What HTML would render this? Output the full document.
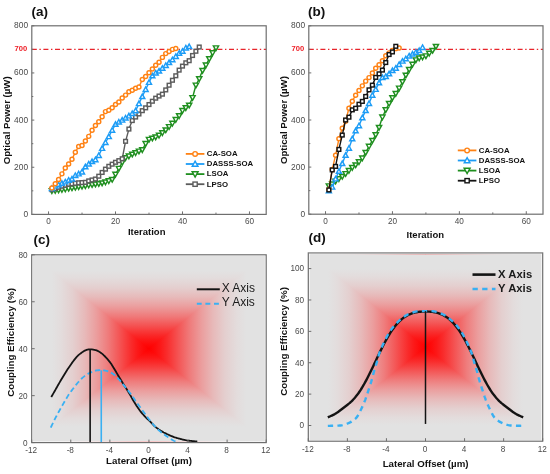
<!DOCTYPE html>
<html><head><meta charset="utf-8"><style>html,body{margin:0;padding:0;background:#fff;width:550px;height:474px;overflow:hidden}svg{display:block;filter:blur(0.3px)}</style></head>
<body><svg width="550" height="474" viewBox="0 0 550 474" style="font-family:'Liberation Sans',sans-serif">
<rect width="550" height="474" fill="#fff"/>
<line x1="31.8" y1="49.38" x2="266.2" y2="49.38" stroke="#e8242b" stroke-width="1.1" stroke-dasharray="5.0 2.6 1.4 2.6"/>
<path d="M51.89 190.83L55.24 190.59L58.59 190.12L61.94 189.65L65.29 189.17L68.63 188.47L71.98 188L75.33 187.52L78.68 186.82L82.03 186.35L85.38 185.87L88.73 185.17L92.07 184.7L95.42 184.22L98.77 183.75L102.12 183.05L105.47 182.1L108.82 180.92L112.17 179.51L115.51 174.32L118.86 168.43L122.21 162.53L125.56 157.82L128.91 156.17L132.26 154.28L135.61 152.87L138.95 151.22L142.3 149.8L145.65 143.68L149 139.43L152.35 138.25L155.7 137.07L159.05 135.42L162.39 132.83L165.74 130L169.09 126.7L172.44 123.4L175.79 119.63L179.14 115.86L182.49 110.67L185.83 107.84L189.18 105.25L192.53 97.7L195.88 85.21L199.23 78.84L202.58 70.59L205.93 65.17L209.27 58.81L212.62 52.91L215.97 47.96" fill="none" stroke="#1f8f1f" stroke-width="1.4" stroke-linejoin="round"/>
<path d="M51.89 193.43L54.49 188.75L49.29 188.75Z" fill="#fff" stroke="#1f8f1f" stroke-width="1.45"/>
<path d="M55.24 193.19L57.84 188.51L52.64 188.51Z" fill="#fff" stroke="#1f8f1f" stroke-width="1.45"/>
<path d="M58.59 192.72L61.19 188.04L55.99 188.04Z" fill="#fff" stroke="#1f8f1f" stroke-width="1.45"/>
<path d="M61.94 192.25L64.54 187.57L59.34 187.57Z" fill="#fff" stroke="#1f8f1f" stroke-width="1.45"/>
<path d="M65.29 191.77L67.89 187.09L62.69 187.09Z" fill="#fff" stroke="#1f8f1f" stroke-width="1.45"/>
<path d="M68.63 191.07L71.23 186.39L66.03 186.39Z" fill="#fff" stroke="#1f8f1f" stroke-width="1.45"/>
<path d="M71.98 190.6L74.58 185.92L69.38 185.92Z" fill="#fff" stroke="#1f8f1f" stroke-width="1.45"/>
<path d="M75.33 190.12L77.93 185.44L72.73 185.44Z" fill="#fff" stroke="#1f8f1f" stroke-width="1.45"/>
<path d="M78.68 189.42L81.28 184.74L76.08 184.74Z" fill="#fff" stroke="#1f8f1f" stroke-width="1.45"/>
<path d="M82.03 188.95L84.63 184.27L79.43 184.27Z" fill="#fff" stroke="#1f8f1f" stroke-width="1.45"/>
<path d="M85.38 188.47L87.98 183.79L82.78 183.79Z" fill="#fff" stroke="#1f8f1f" stroke-width="1.45"/>
<path d="M88.73 187.77L91.33 183.09L86.13 183.09Z" fill="#fff" stroke="#1f8f1f" stroke-width="1.45"/>
<path d="M92.07 187.3L94.67 182.62L89.47 182.62Z" fill="#fff" stroke="#1f8f1f" stroke-width="1.45"/>
<path d="M95.42 186.82L98.02 182.14L92.82 182.14Z" fill="#fff" stroke="#1f8f1f" stroke-width="1.45"/>
<path d="M98.77 186.35L101.37 181.67L96.17 181.67Z" fill="#fff" stroke="#1f8f1f" stroke-width="1.45"/>
<path d="M102.12 185.65L104.72 180.97L99.52 180.97Z" fill="#fff" stroke="#1f8f1f" stroke-width="1.45"/>
<path d="M105.47 184.7L108.07 180.02L102.87 180.02Z" fill="#fff" stroke="#1f8f1f" stroke-width="1.45"/>
<path d="M108.82 183.52L111.42 178.84L106.22 178.84Z" fill="#fff" stroke="#1f8f1f" stroke-width="1.45"/>
<path d="M112.17 182.11L114.77 177.43L109.57 177.43Z" fill="#fff" stroke="#1f8f1f" stroke-width="1.45"/>
<path d="M115.51 176.92L118.11 172.24L112.91 172.24Z" fill="#fff" stroke="#1f8f1f" stroke-width="1.45"/>
<path d="M118.86 171.03L121.46 166.35L116.26 166.35Z" fill="#fff" stroke="#1f8f1f" stroke-width="1.45"/>
<path d="M122.21 165.13L124.81 160.45L119.61 160.45Z" fill="#fff" stroke="#1f8f1f" stroke-width="1.45"/>
<path d="M125.56 160.42L128.16 155.74L122.96 155.74Z" fill="#fff" stroke="#1f8f1f" stroke-width="1.45"/>
<path d="M128.91 158.77L131.51 154.09L126.31 154.09Z" fill="#fff" stroke="#1f8f1f" stroke-width="1.45"/>
<path d="M132.26 156.88L134.86 152.2L129.66 152.2Z" fill="#fff" stroke="#1f8f1f" stroke-width="1.45"/>
<path d="M135.61 155.47L138.21 150.79L133.01 150.79Z" fill="#fff" stroke="#1f8f1f" stroke-width="1.45"/>
<path d="M138.95 153.82L141.55 149.14L136.35 149.14Z" fill="#fff" stroke="#1f8f1f" stroke-width="1.45"/>
<path d="M142.3 152.4L144.9 147.72L139.7 147.72Z" fill="#fff" stroke="#1f8f1f" stroke-width="1.45"/>
<path d="M145.65 146.28L148.25 141.59L143.05 141.59Z" fill="#fff" stroke="#1f8f1f" stroke-width="1.45"/>
<path d="M149 142.03L151.6 137.35L146.4 137.35Z" fill="#fff" stroke="#1f8f1f" stroke-width="1.45"/>
<path d="M152.35 140.85L154.95 136.17L149.75 136.17Z" fill="#fff" stroke="#1f8f1f" stroke-width="1.45"/>
<path d="M155.7 139.67L158.3 134.99L153.1 134.99Z" fill="#fff" stroke="#1f8f1f" stroke-width="1.45"/>
<path d="M159.05 138.02L161.65 133.34L156.45 133.34Z" fill="#fff" stroke="#1f8f1f" stroke-width="1.45"/>
<path d="M162.39 135.43L164.99 130.75L159.79 130.75Z" fill="#fff" stroke="#1f8f1f" stroke-width="1.45"/>
<path d="M165.74 132.6L168.34 127.92L163.14 127.92Z" fill="#fff" stroke="#1f8f1f" stroke-width="1.45"/>
<path d="M169.09 129.3L171.69 124.62L166.49 124.62Z" fill="#fff" stroke="#1f8f1f" stroke-width="1.45"/>
<path d="M172.44 126L175.04 121.32L169.84 121.32Z" fill="#fff" stroke="#1f8f1f" stroke-width="1.45"/>
<path d="M175.79 122.23L178.39 117.55L173.19 117.55Z" fill="#fff" stroke="#1f8f1f" stroke-width="1.45"/>
<path d="M179.14 118.46L181.74 113.78L176.54 113.78Z" fill="#fff" stroke="#1f8f1f" stroke-width="1.45"/>
<path d="M182.49 113.27L185.09 108.59L179.89 108.59Z" fill="#fff" stroke="#1f8f1f" stroke-width="1.45"/>
<path d="M185.83 110.44L188.43 105.76L183.23 105.76Z" fill="#fff" stroke="#1f8f1f" stroke-width="1.45"/>
<path d="M189.18 107.85L191.78 103.17L186.58 103.17Z" fill="#fff" stroke="#1f8f1f" stroke-width="1.45"/>
<path d="M192.53 100.3L195.13 95.62L189.93 95.62Z" fill="#fff" stroke="#1f8f1f" stroke-width="1.45"/>
<path d="M195.88 87.81L198.48 83.13L193.28 83.13Z" fill="#fff" stroke="#1f8f1f" stroke-width="1.45"/>
<path d="M199.23 81.44L201.83 76.76L196.63 76.76Z" fill="#fff" stroke="#1f8f1f" stroke-width="1.45"/>
<path d="M202.58 73.19L205.18 68.51L199.98 68.51Z" fill="#fff" stroke="#1f8f1f" stroke-width="1.45"/>
<path d="M205.93 67.77L208.53 63.09L203.33 63.09Z" fill="#fff" stroke="#1f8f1f" stroke-width="1.45"/>
<path d="M209.27 61.41L211.87 56.73L206.67 56.73Z" fill="#fff" stroke="#1f8f1f" stroke-width="1.45"/>
<path d="M212.62 55.51L215.22 50.83L210.02 50.83Z" fill="#fff" stroke="#1f8f1f" stroke-width="1.45"/>
<path d="M215.97 50.56L218.57 45.88L213.37 45.88Z" fill="#fff" stroke="#1f8f1f" stroke-width="1.45"/>
<path d="M51.89 189.65L55.24 188.47L58.59 187.29L61.94 186.11L65.29 185.17L68.63 184.22L71.98 183.75L75.33 183.28L78.68 182.81L82.03 182.57L85.38 182.34L88.73 180.92L92.07 179.98L95.42 179.04L98.77 176.21L102.12 172.44L105.47 169.14L108.82 166.31L112.17 164.19L115.51 162.3L118.86 160.65L122.21 158.76L125.56 141.32L128.91 129.06L132.26 120.57L135.61 117.04L138.95 113.97L142.3 110.67L145.65 107.84L149 104.54L152.35 101.24L155.7 98.18L159.05 96.05L162.39 94.17L165.74 89.92L169.09 85.21L172.44 80.26L175.79 75.78L179.14 70.12L182.49 66.11L185.83 62.81L189.18 60.69L192.53 55.5L195.88 51.26L199.23 47.02" fill="none" stroke="#5c5c5c" stroke-width="1.4" stroke-linejoin="round"/>
<rect x="50.04" y="187.8" width="3.7" height="3.7" fill="#fff" stroke="#5c5c5c" stroke-width="1.45"/>
<rect x="53.39" y="186.62" width="3.7" height="3.7" fill="#fff" stroke="#5c5c5c" stroke-width="1.45"/>
<rect x="56.74" y="185.44" width="3.7" height="3.7" fill="#fff" stroke="#5c5c5c" stroke-width="1.45"/>
<rect x="60.09" y="184.26" width="3.7" height="3.7" fill="#fff" stroke="#5c5c5c" stroke-width="1.45"/>
<rect x="63.44" y="183.32" width="3.7" height="3.7" fill="#fff" stroke="#5c5c5c" stroke-width="1.45"/>
<rect x="66.78" y="182.37" width="3.7" height="3.7" fill="#fff" stroke="#5c5c5c" stroke-width="1.45"/>
<rect x="70.13" y="181.9" width="3.7" height="3.7" fill="#fff" stroke="#5c5c5c" stroke-width="1.45"/>
<rect x="73.48" y="181.43" width="3.7" height="3.7" fill="#fff" stroke="#5c5c5c" stroke-width="1.45"/>
<rect x="76.83" y="180.96" width="3.7" height="3.7" fill="#fff" stroke="#5c5c5c" stroke-width="1.45"/>
<rect x="80.18" y="180.72" width="3.7" height="3.7" fill="#fff" stroke="#5c5c5c" stroke-width="1.45"/>
<rect x="83.53" y="180.49" width="3.7" height="3.7" fill="#fff" stroke="#5c5c5c" stroke-width="1.45"/>
<rect x="86.88" y="179.07" width="3.7" height="3.7" fill="#fff" stroke="#5c5c5c" stroke-width="1.45"/>
<rect x="90.22" y="178.13" width="3.7" height="3.7" fill="#fff" stroke="#5c5c5c" stroke-width="1.45"/>
<rect x="93.57" y="177.19" width="3.7" height="3.7" fill="#fff" stroke="#5c5c5c" stroke-width="1.45"/>
<rect x="96.92" y="174.36" width="3.7" height="3.7" fill="#fff" stroke="#5c5c5c" stroke-width="1.45"/>
<rect x="100.27" y="170.59" width="3.7" height="3.7" fill="#fff" stroke="#5c5c5c" stroke-width="1.45"/>
<rect x="103.62" y="167.29" width="3.7" height="3.7" fill="#fff" stroke="#5c5c5c" stroke-width="1.45"/>
<rect x="106.97" y="164.46" width="3.7" height="3.7" fill="#fff" stroke="#5c5c5c" stroke-width="1.45"/>
<rect x="110.32" y="162.34" width="3.7" height="3.7" fill="#fff" stroke="#5c5c5c" stroke-width="1.45"/>
<rect x="113.66" y="160.45" width="3.7" height="3.7" fill="#fff" stroke="#5c5c5c" stroke-width="1.45"/>
<rect x="117.01" y="158.8" width="3.7" height="3.7" fill="#fff" stroke="#5c5c5c" stroke-width="1.45"/>
<rect x="120.36" y="156.91" width="3.7" height="3.7" fill="#fff" stroke="#5c5c5c" stroke-width="1.45"/>
<rect x="123.71" y="139.47" width="3.7" height="3.7" fill="#fff" stroke="#5c5c5c" stroke-width="1.45"/>
<rect x="127.06" y="127.21" width="3.7" height="3.7" fill="#fff" stroke="#5c5c5c" stroke-width="1.45"/>
<rect x="130.41" y="118.72" width="3.7" height="3.7" fill="#fff" stroke="#5c5c5c" stroke-width="1.45"/>
<rect x="133.76" y="115.19" width="3.7" height="3.7" fill="#fff" stroke="#5c5c5c" stroke-width="1.45"/>
<rect x="137.1" y="112.12" width="3.7" height="3.7" fill="#fff" stroke="#5c5c5c" stroke-width="1.45"/>
<rect x="140.45" y="108.82" width="3.7" height="3.7" fill="#fff" stroke="#5c5c5c" stroke-width="1.45"/>
<rect x="143.8" y="105.99" width="3.7" height="3.7" fill="#fff" stroke="#5c5c5c" stroke-width="1.45"/>
<rect x="147.15" y="102.69" width="3.7" height="3.7" fill="#fff" stroke="#5c5c5c" stroke-width="1.45"/>
<rect x="150.5" y="99.39" width="3.7" height="3.7" fill="#fff" stroke="#5c5c5c" stroke-width="1.45"/>
<rect x="153.85" y="96.33" width="3.7" height="3.7" fill="#fff" stroke="#5c5c5c" stroke-width="1.45"/>
<rect x="157.2" y="94.2" width="3.7" height="3.7" fill="#fff" stroke="#5c5c5c" stroke-width="1.45"/>
<rect x="160.54" y="92.32" width="3.7" height="3.7" fill="#fff" stroke="#5c5c5c" stroke-width="1.45"/>
<rect x="163.89" y="88.07" width="3.7" height="3.7" fill="#fff" stroke="#5c5c5c" stroke-width="1.45"/>
<rect x="167.24" y="83.36" width="3.7" height="3.7" fill="#fff" stroke="#5c5c5c" stroke-width="1.45"/>
<rect x="170.59" y="78.41" width="3.7" height="3.7" fill="#fff" stroke="#5c5c5c" stroke-width="1.45"/>
<rect x="173.94" y="73.93" width="3.7" height="3.7" fill="#fff" stroke="#5c5c5c" stroke-width="1.45"/>
<rect x="177.29" y="68.27" width="3.7" height="3.7" fill="#fff" stroke="#5c5c5c" stroke-width="1.45"/>
<rect x="180.64" y="64.26" width="3.7" height="3.7" fill="#fff" stroke="#5c5c5c" stroke-width="1.45"/>
<rect x="183.98" y="60.96" width="3.7" height="3.7" fill="#fff" stroke="#5c5c5c" stroke-width="1.45"/>
<rect x="187.33" y="58.84" width="3.7" height="3.7" fill="#fff" stroke="#5c5c5c" stroke-width="1.45"/>
<rect x="190.68" y="53.65" width="3.7" height="3.7" fill="#fff" stroke="#5c5c5c" stroke-width="1.45"/>
<rect x="194.03" y="49.41" width="3.7" height="3.7" fill="#fff" stroke="#5c5c5c" stroke-width="1.45"/>
<rect x="197.38" y="45.17" width="3.7" height="3.7" fill="#fff" stroke="#5c5c5c" stroke-width="1.45"/>
<path d="M51.89 188.47L55.24 186.11L58.59 184.7L61.94 183.28L65.29 181.87L68.63 180.22L71.98 179.04L75.33 175.5L78.68 173.85L82.03 171.97L85.38 166.78L88.73 163.95L92.07 161.59L95.42 159.71L98.77 155.46L102.12 148.39L105.47 142.5L108.82 136.6L112.17 130.24L115.51 124.34L118.86 121.99L122.21 120.1L125.56 117.98L128.91 115.86L132.26 113.5L135.61 110.67L138.95 103.6L142.3 96.53L145.65 89.45L149 82.38L152.35 75.78L155.7 72.95L159.05 71.06L162.39 68.24L165.74 65.41L169.09 62.58L172.44 59.75L175.79 56.45L179.14 53.15L182.49 51.26L185.83 47.96L189.18 46.55" fill="none" stroke="#1c9cf6" stroke-width="1.4" stroke-linejoin="round"/>
<path d="M51.89 185.97L54.39 190.47L49.39 190.47Z" fill="#fff" stroke="#1c9cf6" stroke-width="1.45"/>
<path d="M55.24 183.61L57.74 188.11L52.74 188.11Z" fill="#fff" stroke="#1c9cf6" stroke-width="1.45"/>
<path d="M58.59 182.2L61.09 186.7L56.09 186.7Z" fill="#fff" stroke="#1c9cf6" stroke-width="1.45"/>
<path d="M61.94 180.78L64.44 185.28L59.44 185.28Z" fill="#fff" stroke="#1c9cf6" stroke-width="1.45"/>
<path d="M65.29 179.37L67.79 183.87L62.79 183.87Z" fill="#fff" stroke="#1c9cf6" stroke-width="1.45"/>
<path d="M68.63 177.72L71.13 182.22L66.13 182.22Z" fill="#fff" stroke="#1c9cf6" stroke-width="1.45"/>
<path d="M71.98 176.54L74.48 181.04L69.48 181.04Z" fill="#fff" stroke="#1c9cf6" stroke-width="1.45"/>
<path d="M75.33 173L77.83 177.5L72.83 177.5Z" fill="#fff" stroke="#1c9cf6" stroke-width="1.45"/>
<path d="M78.68 171.35L81.18 175.85L76.18 175.85Z" fill="#fff" stroke="#1c9cf6" stroke-width="1.45"/>
<path d="M82.03 169.47L84.53 173.97L79.53 173.97Z" fill="#fff" stroke="#1c9cf6" stroke-width="1.45"/>
<path d="M85.38 164.28L87.88 168.78L82.88 168.78Z" fill="#fff" stroke="#1c9cf6" stroke-width="1.45"/>
<path d="M88.73 161.45L91.23 165.95L86.23 165.95Z" fill="#fff" stroke="#1c9cf6" stroke-width="1.45"/>
<path d="M92.07 159.09L94.57 163.59L89.57 163.59Z" fill="#fff" stroke="#1c9cf6" stroke-width="1.45"/>
<path d="M95.42 157.21L97.92 161.71L92.92 161.71Z" fill="#fff" stroke="#1c9cf6" stroke-width="1.45"/>
<path d="M98.77 152.96L101.27 157.46L96.27 157.46Z" fill="#fff" stroke="#1c9cf6" stroke-width="1.45"/>
<path d="M102.12 145.89L104.62 150.39L99.62 150.39Z" fill="#fff" stroke="#1c9cf6" stroke-width="1.45"/>
<path d="M105.47 140L107.97 144.5L102.97 144.5Z" fill="#fff" stroke="#1c9cf6" stroke-width="1.45"/>
<path d="M108.82 134.1L111.32 138.6L106.32 138.6Z" fill="#fff" stroke="#1c9cf6" stroke-width="1.45"/>
<path d="M112.17 127.74L114.67 132.24L109.67 132.24Z" fill="#fff" stroke="#1c9cf6" stroke-width="1.45"/>
<path d="M115.51 121.84L118.01 126.34L113.01 126.34Z" fill="#fff" stroke="#1c9cf6" stroke-width="1.45"/>
<path d="M118.86 119.49L121.36 123.99L116.36 123.99Z" fill="#fff" stroke="#1c9cf6" stroke-width="1.45"/>
<path d="M122.21 117.6L124.71 122.1L119.71 122.1Z" fill="#fff" stroke="#1c9cf6" stroke-width="1.45"/>
<path d="M125.56 115.48L128.06 119.98L123.06 119.98Z" fill="#fff" stroke="#1c9cf6" stroke-width="1.45"/>
<path d="M128.91 113.36L131.41 117.86L126.41 117.86Z" fill="#fff" stroke="#1c9cf6" stroke-width="1.45"/>
<path d="M132.26 111L134.76 115.5L129.76 115.5Z" fill="#fff" stroke="#1c9cf6" stroke-width="1.45"/>
<path d="M135.61 108.17L138.11 112.67L133.11 112.67Z" fill="#fff" stroke="#1c9cf6" stroke-width="1.45"/>
<path d="M138.95 101.1L141.45 105.6L136.45 105.6Z" fill="#fff" stroke="#1c9cf6" stroke-width="1.45"/>
<path d="M142.3 94.03L144.8 98.53L139.8 98.53Z" fill="#fff" stroke="#1c9cf6" stroke-width="1.45"/>
<path d="M145.65 86.95L148.15 91.45L143.15 91.45Z" fill="#fff" stroke="#1c9cf6" stroke-width="1.45"/>
<path d="M149 79.88L151.5 84.38L146.5 84.38Z" fill="#fff" stroke="#1c9cf6" stroke-width="1.45"/>
<path d="M152.35 73.28L154.85 77.78L149.85 77.78Z" fill="#fff" stroke="#1c9cf6" stroke-width="1.45"/>
<path d="M155.7 70.45L158.2 74.95L153.2 74.95Z" fill="#fff" stroke="#1c9cf6" stroke-width="1.45"/>
<path d="M159.05 68.56L161.55 73.06L156.55 73.06Z" fill="#fff" stroke="#1c9cf6" stroke-width="1.45"/>
<path d="M162.39 65.74L164.89 70.24L159.89 70.24Z" fill="#fff" stroke="#1c9cf6" stroke-width="1.45"/>
<path d="M165.74 62.91L168.24 67.41L163.24 67.41Z" fill="#fff" stroke="#1c9cf6" stroke-width="1.45"/>
<path d="M169.09 60.08L171.59 64.58L166.59 64.58Z" fill="#fff" stroke="#1c9cf6" stroke-width="1.45"/>
<path d="M172.44 57.25L174.94 61.75L169.94 61.75Z" fill="#fff" stroke="#1c9cf6" stroke-width="1.45"/>
<path d="M175.79 53.95L178.29 58.45L173.29 58.45Z" fill="#fff" stroke="#1c9cf6" stroke-width="1.45"/>
<path d="M179.14 50.65L181.64 55.15L176.64 55.15Z" fill="#fff" stroke="#1c9cf6" stroke-width="1.45"/>
<path d="M182.49 48.76L184.99 53.26L179.99 53.26Z" fill="#fff" stroke="#1c9cf6" stroke-width="1.45"/>
<path d="M185.83 45.46L188.33 49.96L183.33 49.96Z" fill="#fff" stroke="#1c9cf6" stroke-width="1.45"/>
<path d="M189.18 44.05L191.68 48.55L186.68 48.55Z" fill="#fff" stroke="#1c9cf6" stroke-width="1.45"/>
<path d="M51.89 188L55.24 183.75L58.59 179.51L61.94 173.85L65.29 167.96L68.63 163.95L71.98 159.23L75.33 152.16L78.68 146.5L82.03 145.56L85.38 141.08L88.73 136.37L92.07 130.24L95.42 125.52L98.77 121.75L102.12 116.8L105.47 111.61L108.82 110.2L112.17 107.84L115.51 104.54L118.86 101.95L122.21 97.94L125.56 95.11L128.91 91.81L132.26 90.16L135.61 88.27L138.95 87.09L142.3 79.55L145.65 76.49L149 72.71L152.35 68.94L155.7 65.17L159.05 62.34L162.39 57.39L165.74 53.62L169.09 51.5L172.44 49.38L175.79 48.43" fill="none" stroke="#ff8214" stroke-width="1.4" stroke-linejoin="round"/>
<circle cx="51.89" cy="188" r="2" fill="#fff" stroke="#ff8214" stroke-width="1.45"/>
<circle cx="55.24" cy="183.75" r="2" fill="#fff" stroke="#ff8214" stroke-width="1.45"/>
<circle cx="58.59" cy="179.51" r="2" fill="#fff" stroke="#ff8214" stroke-width="1.45"/>
<circle cx="61.94" cy="173.85" r="2" fill="#fff" stroke="#ff8214" stroke-width="1.45"/>
<circle cx="65.29" cy="167.96" r="2" fill="#fff" stroke="#ff8214" stroke-width="1.45"/>
<circle cx="68.63" cy="163.95" r="2" fill="#fff" stroke="#ff8214" stroke-width="1.45"/>
<circle cx="71.98" cy="159.23" r="2" fill="#fff" stroke="#ff8214" stroke-width="1.45"/>
<circle cx="75.33" cy="152.16" r="2" fill="#fff" stroke="#ff8214" stroke-width="1.45"/>
<circle cx="78.68" cy="146.5" r="2" fill="#fff" stroke="#ff8214" stroke-width="1.45"/>
<circle cx="82.03" cy="145.56" r="2" fill="#fff" stroke="#ff8214" stroke-width="1.45"/>
<circle cx="85.38" cy="141.08" r="2" fill="#fff" stroke="#ff8214" stroke-width="1.45"/>
<circle cx="88.73" cy="136.37" r="2" fill="#fff" stroke="#ff8214" stroke-width="1.45"/>
<circle cx="92.07" cy="130.24" r="2" fill="#fff" stroke="#ff8214" stroke-width="1.45"/>
<circle cx="95.42" cy="125.52" r="2" fill="#fff" stroke="#ff8214" stroke-width="1.45"/>
<circle cx="98.77" cy="121.75" r="2" fill="#fff" stroke="#ff8214" stroke-width="1.45"/>
<circle cx="102.12" cy="116.8" r="2" fill="#fff" stroke="#ff8214" stroke-width="1.45"/>
<circle cx="105.47" cy="111.61" r="2" fill="#fff" stroke="#ff8214" stroke-width="1.45"/>
<circle cx="108.82" cy="110.2" r="2" fill="#fff" stroke="#ff8214" stroke-width="1.45"/>
<circle cx="112.17" cy="107.84" r="2" fill="#fff" stroke="#ff8214" stroke-width="1.45"/>
<circle cx="115.51" cy="104.54" r="2" fill="#fff" stroke="#ff8214" stroke-width="1.45"/>
<circle cx="118.86" cy="101.95" r="2" fill="#fff" stroke="#ff8214" stroke-width="1.45"/>
<circle cx="122.21" cy="97.94" r="2" fill="#fff" stroke="#ff8214" stroke-width="1.45"/>
<circle cx="125.56" cy="95.11" r="2" fill="#fff" stroke="#ff8214" stroke-width="1.45"/>
<circle cx="128.91" cy="91.81" r="2" fill="#fff" stroke="#ff8214" stroke-width="1.45"/>
<circle cx="132.26" cy="90.16" r="2" fill="#fff" stroke="#ff8214" stroke-width="1.45"/>
<circle cx="135.61" cy="88.27" r="2" fill="#fff" stroke="#ff8214" stroke-width="1.45"/>
<circle cx="138.95" cy="87.09" r="2" fill="#fff" stroke="#ff8214" stroke-width="1.45"/>
<circle cx="142.3" cy="79.55" r="2" fill="#fff" stroke="#ff8214" stroke-width="1.45"/>
<circle cx="145.65" cy="76.49" r="2" fill="#fff" stroke="#ff8214" stroke-width="1.45"/>
<circle cx="149" cy="72.71" r="2" fill="#fff" stroke="#ff8214" stroke-width="1.45"/>
<circle cx="152.35" cy="68.94" r="2" fill="#fff" stroke="#ff8214" stroke-width="1.45"/>
<circle cx="155.7" cy="65.17" r="2" fill="#fff" stroke="#ff8214" stroke-width="1.45"/>
<circle cx="159.05" cy="62.34" r="2" fill="#fff" stroke="#ff8214" stroke-width="1.45"/>
<circle cx="162.39" cy="57.39" r="2" fill="#fff" stroke="#ff8214" stroke-width="1.45"/>
<circle cx="165.74" cy="53.62" r="2" fill="#fff" stroke="#ff8214" stroke-width="1.45"/>
<circle cx="169.09" cy="51.5" r="2" fill="#fff" stroke="#ff8214" stroke-width="1.45"/>
<circle cx="172.44" cy="49.38" r="2" fill="#fff" stroke="#ff8214" stroke-width="1.45"/>
<circle cx="175.79" cy="48.43" r="2" fill="#fff" stroke="#ff8214" stroke-width="1.45"/>
<rect x="31.8" y="25.8" width="234.4" height="188.6" fill="none" stroke="#6e6e6e" stroke-width="1.2"/>
<line x1="48.54" y1="214.4" x2="48.54" y2="211.4" stroke="#6e6e6e" stroke-width="1.0"/>
<line x1="115.51" y1="214.4" x2="115.51" y2="211.4" stroke="#6e6e6e" stroke-width="1.0"/>
<line x1="182.49" y1="214.4" x2="182.49" y2="211.4" stroke="#6e6e6e" stroke-width="1.0"/>
<line x1="249.46" y1="214.4" x2="249.46" y2="211.4" stroke="#6e6e6e" stroke-width="1.0"/>
<line x1="82.03" y1="214.4" x2="82.03" y2="212.6" stroke="#6e6e6e" stroke-width="1.0"/>
<line x1="149" y1="214.4" x2="149" y2="212.6" stroke="#6e6e6e" stroke-width="1.0"/>
<line x1="215.97" y1="214.4" x2="215.97" y2="212.6" stroke="#6e6e6e" stroke-width="1.0"/>
<line x1="31.8" y1="214.4" x2="34.3" y2="214.4" stroke="#6e6e6e" stroke-width="1.0"/>
<line x1="31.8" y1="167.25" x2="34.3" y2="167.25" stroke="#6e6e6e" stroke-width="1.0"/>
<line x1="31.8" y1="120.1" x2="34.3" y2="120.1" stroke="#6e6e6e" stroke-width="1.0"/>
<line x1="31.8" y1="72.95" x2="34.3" y2="72.95" stroke="#6e6e6e" stroke-width="1.0"/>
<line x1="31.8" y1="25.8" x2="34.3" y2="25.8" stroke="#6e6e6e" stroke-width="1.0"/>
<line x1="31.8" y1="190.83" x2="33.3" y2="190.83" stroke="#6e6e6e" stroke-width="1.0"/>
<line x1="31.8" y1="143.68" x2="33.3" y2="143.68" stroke="#6e6e6e" stroke-width="1.0"/>
<line x1="31.8" y1="96.53" x2="33.3" y2="96.53" stroke="#6e6e6e" stroke-width="1.0"/>
<line x1="31.8" y1="49.38" x2="33.3" y2="49.38" stroke="#6e6e6e" stroke-width="1.0"/>
<text x="48.54" y="224.1" font-size="8.2" text-anchor="middle" font-weight="normal" fill="#4a4a4a" >0</text>
<text x="115.51" y="224.1" font-size="8.2" text-anchor="middle" font-weight="normal" fill="#4a4a4a" >20</text>
<text x="182.49" y="224.1" font-size="8.2" text-anchor="middle" font-weight="normal" fill="#4a4a4a" >40</text>
<text x="249.46" y="224.1" font-size="8.2" text-anchor="middle" font-weight="normal" fill="#4a4a4a" >60</text>
<text x="28.1" y="216.9" font-size="8.4" text-anchor="end" font-weight="normal" fill="#4a4a4a" >0</text>
<text x="28.1" y="169.75" font-size="8.4" text-anchor="end" font-weight="normal" fill="#4a4a4a" >200</text>
<text x="28.1" y="122.6" font-size="8.4" text-anchor="end" font-weight="normal" fill="#4a4a4a" >400</text>
<text x="28.1" y="75.45" font-size="8.4" text-anchor="end" font-weight="normal" fill="#4a4a4a" >600</text>
<text x="28.1" y="28.3" font-size="8.4" text-anchor="end" font-weight="normal" fill="#4a4a4a" >800</text>
<text x="27.2" y="51.38" font-size="7.6" text-anchor="end" font-weight="bold" fill="#ee1c24" >700</text>
<text x="31.5" y="15.7" font-size="13.5" text-anchor="start" font-weight="bold" fill="#111" >(a)</text>
<text x="146.7" y="235" font-size="9.5" text-anchor="middle" font-weight="bold" fill="#111" >Iteration</text>
<text x="10.1" y="120.35" font-size="9.65" text-anchor="middle" font-weight="bold" fill="#111" transform="rotate(-90 10.1 120.35)">Optical Power (&#181;W)</text>
<line x1="185.8" y1="153.9" x2="204.4" y2="153.9" stroke="#ff8214" stroke-width="1.8"/>
<circle cx="195.1" cy="153.9" r="2.3" fill="#fff" stroke="#ff8214" stroke-width="1.4"/>
<text x="206.8" y="156.2" font-size="7.8" text-anchor="start" font-weight="bold" fill="#111" >CA-SOA</text>
<line x1="185.8" y1="164" x2="204.4" y2="164" stroke="#1c9cf6" stroke-width="1.8"/>
<path d="M195.1 161.12L197.98 166.3L192.23 166.3Z" fill="#fff" stroke="#1c9cf6" stroke-width="1.4"/>
<text x="206.8" y="166.3" font-size="7.8" text-anchor="start" font-weight="bold" fill="#111" >DASSS-SOA</text>
<line x1="185.8" y1="174.1" x2="204.4" y2="174.1" stroke="#1f8f1f" stroke-width="1.8"/>
<path d="M195.1 177.09L198.09 171.71L192.11 171.71Z" fill="#fff" stroke="#1f8f1f" stroke-width="1.4"/>
<text x="206.8" y="176.4" font-size="7.8" text-anchor="start" font-weight="bold" fill="#111" >LSOA</text>
<line x1="185.8" y1="184.2" x2="204.4" y2="184.2" stroke="#5c5c5c" stroke-width="1.8"/>
<rect x="192.97" y="182.07" width="4.25" height="4.25" fill="#fff" stroke="#5c5c5c" stroke-width="1.4"/>
<text x="206.8" y="186.5" font-size="7.8" text-anchor="start" font-weight="bold" fill="#111" >LPSO</text>
<line x1="308.8" y1="49.35" x2="543" y2="49.35" stroke="#e8242b" stroke-width="1.1" stroke-dasharray="5.0 2.6 1.4 2.6"/>
<path d="M328.87 185.94L332.22 184.06L335.57 181.23L338.91 178.88L342.26 176.52L345.6 173.69L348.95 170.63L352.29 167.57L355.64 164.98L358.99 161.92L362.33 158.15L365.68 152.5L369.02 146.38L372.37 140.49L375.71 134.84L379.06 127.54L382.41 117.17L385.75 109.87L389.1 103.52L392.44 97.86L395.79 93.62L399.13 88.21L402.48 81.85L405.83 75.25L409.17 69.6L412.52 64.42L415.86 59.95L419.21 58.06L422.55 57.12L425.9 55.94L429.25 53.35L432.59 50.53L435.94 46.52" fill="none" stroke="#1f8f1f" stroke-width="1.4" stroke-linejoin="round"/>
<path d="M328.87 188.54L331.47 183.86L326.27 183.86Z" fill="#fff" stroke="#1f8f1f" stroke-width="1.45"/>
<path d="M332.22 186.66L334.82 181.98L329.62 181.98Z" fill="#fff" stroke="#1f8f1f" stroke-width="1.45"/>
<path d="M335.57 183.83L338.17 179.15L332.97 179.15Z" fill="#fff" stroke="#1f8f1f" stroke-width="1.45"/>
<path d="M338.91 181.47L341.51 176.79L336.31 176.79Z" fill="#fff" stroke="#1f8f1f" stroke-width="1.45"/>
<path d="M342.26 179.12L344.86 174.44L339.66 174.44Z" fill="#fff" stroke="#1f8f1f" stroke-width="1.45"/>
<path d="M345.6 176.29L348.2 171.61L343 171.61Z" fill="#fff" stroke="#1f8f1f" stroke-width="1.45"/>
<path d="M348.95 173.23L351.55 168.55L346.35 168.55Z" fill="#fff" stroke="#1f8f1f" stroke-width="1.45"/>
<path d="M352.29 170.17L354.89 165.49L349.69 165.49Z" fill="#fff" stroke="#1f8f1f" stroke-width="1.45"/>
<path d="M355.64 167.58L358.24 162.9L353.04 162.9Z" fill="#fff" stroke="#1f8f1f" stroke-width="1.45"/>
<path d="M358.99 164.52L361.59 159.84L356.39 159.84Z" fill="#fff" stroke="#1f8f1f" stroke-width="1.45"/>
<path d="M362.33 160.75L364.93 156.07L359.73 156.07Z" fill="#fff" stroke="#1f8f1f" stroke-width="1.45"/>
<path d="M365.68 155.1L368.28 150.42L363.08 150.42Z" fill="#fff" stroke="#1f8f1f" stroke-width="1.45"/>
<path d="M369.02 148.98L371.62 144.3L366.42 144.3Z" fill="#fff" stroke="#1f8f1f" stroke-width="1.45"/>
<path d="M372.37 143.09L374.97 138.41L369.77 138.41Z" fill="#fff" stroke="#1f8f1f" stroke-width="1.45"/>
<path d="M375.71 137.44L378.31 132.76L373.11 132.76Z" fill="#fff" stroke="#1f8f1f" stroke-width="1.45"/>
<path d="M379.06 130.14L381.66 125.46L376.46 125.46Z" fill="#fff" stroke="#1f8f1f" stroke-width="1.45"/>
<path d="M382.41 119.77L385.01 115.09L379.81 115.09Z" fill="#fff" stroke="#1f8f1f" stroke-width="1.45"/>
<path d="M385.75 112.47L388.35 107.79L383.15 107.79Z" fill="#fff" stroke="#1f8f1f" stroke-width="1.45"/>
<path d="M389.1 106.11L391.7 101.44L386.5 101.44Z" fill="#fff" stroke="#1f8f1f" stroke-width="1.45"/>
<path d="M392.44 100.46L395.04 95.78L389.84 95.78Z" fill="#fff" stroke="#1f8f1f" stroke-width="1.45"/>
<path d="M395.79 96.22L398.39 91.54L393.19 91.54Z" fill="#fff" stroke="#1f8f1f" stroke-width="1.45"/>
<path d="M399.13 90.81L401.73 86.13L396.53 86.13Z" fill="#fff" stroke="#1f8f1f" stroke-width="1.45"/>
<path d="M402.48 84.45L405.08 79.77L399.88 79.77Z" fill="#fff" stroke="#1f8f1f" stroke-width="1.45"/>
<path d="M405.83 77.85L408.43 73.17L403.23 73.17Z" fill="#fff" stroke="#1f8f1f" stroke-width="1.45"/>
<path d="M409.17 72.2L411.77 67.52L406.57 67.52Z" fill="#fff" stroke="#1f8f1f" stroke-width="1.45"/>
<path d="M412.52 67.02L415.12 62.34L409.92 62.34Z" fill="#fff" stroke="#1f8f1f" stroke-width="1.45"/>
<path d="M415.86 62.55L418.46 57.87L413.26 57.87Z" fill="#fff" stroke="#1f8f1f" stroke-width="1.45"/>
<path d="M419.21 60.66L421.81 55.98L416.61 55.98Z" fill="#fff" stroke="#1f8f1f" stroke-width="1.45"/>
<path d="M422.55 59.72L425.15 55.04L419.95 55.04Z" fill="#fff" stroke="#1f8f1f" stroke-width="1.45"/>
<path d="M425.9 58.54L428.5 53.86L423.3 53.86Z" fill="#fff" stroke="#1f8f1f" stroke-width="1.45"/>
<path d="M429.25 55.95L431.85 51.27L426.65 51.27Z" fill="#fff" stroke="#1f8f1f" stroke-width="1.45"/>
<path d="M432.59 53.13L435.19 48.45L429.99 48.45Z" fill="#fff" stroke="#1f8f1f" stroke-width="1.45"/>
<path d="M435.94 49.12L438.54 44.44L433.34 44.44Z" fill="#fff" stroke="#1f8f1f" stroke-width="1.45"/>
<path d="M328.87 190.65L332.22 187.12L335.57 178.88L338.91 171.34L342.26 163.57L345.6 155.32L348.95 148.26L352.29 138.84L355.64 130.83L358.99 125.65L362.33 117.65L365.68 110.58L369.02 103.52L372.37 95.27L375.71 89.39L379.06 82.79L382.41 77.61L385.75 76.43L389.1 73.84L392.44 70.55L395.79 68.19L399.13 64.42L402.48 61.12L405.83 58.77L409.17 55.94L412.52 54.06L415.86 52.18L419.21 50.53L422.55 47.47" fill="none" stroke="#1c9cf6" stroke-width="1.4" stroke-linejoin="round"/>
<path d="M328.87 188.15L331.37 192.65L326.37 192.65Z" fill="#fff" stroke="#1c9cf6" stroke-width="1.45"/>
<path d="M332.22 184.62L334.72 189.12L329.72 189.12Z" fill="#fff" stroke="#1c9cf6" stroke-width="1.45"/>
<path d="M335.57 176.38L338.07 180.88L333.07 180.88Z" fill="#fff" stroke="#1c9cf6" stroke-width="1.45"/>
<path d="M338.91 168.84L341.41 173.34L336.41 173.34Z" fill="#fff" stroke="#1c9cf6" stroke-width="1.45"/>
<path d="M342.26 161.07L344.76 165.57L339.76 165.57Z" fill="#fff" stroke="#1c9cf6" stroke-width="1.45"/>
<path d="M345.6 152.82L348.1 157.32L343.1 157.32Z" fill="#fff" stroke="#1c9cf6" stroke-width="1.45"/>
<path d="M348.95 145.76L351.45 150.26L346.45 150.26Z" fill="#fff" stroke="#1c9cf6" stroke-width="1.45"/>
<path d="M352.29 136.34L354.79 140.84L349.79 140.84Z" fill="#fff" stroke="#1c9cf6" stroke-width="1.45"/>
<path d="M355.64 128.33L358.14 132.83L353.14 132.83Z" fill="#fff" stroke="#1c9cf6" stroke-width="1.45"/>
<path d="M358.99 123.15L361.49 127.65L356.49 127.65Z" fill="#fff" stroke="#1c9cf6" stroke-width="1.45"/>
<path d="M362.33 115.15L364.83 119.65L359.83 119.65Z" fill="#fff" stroke="#1c9cf6" stroke-width="1.45"/>
<path d="M365.68 108.08L368.18 112.58L363.18 112.58Z" fill="#fff" stroke="#1c9cf6" stroke-width="1.45"/>
<path d="M369.02 101.02L371.52 105.52L366.52 105.52Z" fill="#fff" stroke="#1c9cf6" stroke-width="1.45"/>
<path d="M372.37 92.77L374.87 97.27L369.87 97.27Z" fill="#fff" stroke="#1c9cf6" stroke-width="1.45"/>
<path d="M375.71 86.89L378.21 91.39L373.21 91.39Z" fill="#fff" stroke="#1c9cf6" stroke-width="1.45"/>
<path d="M379.06 80.29L381.56 84.79L376.56 84.79Z" fill="#fff" stroke="#1c9cf6" stroke-width="1.45"/>
<path d="M382.41 75.11L384.91 79.61L379.91 79.61Z" fill="#fff" stroke="#1c9cf6" stroke-width="1.45"/>
<path d="M385.75 73.93L388.25 78.43L383.25 78.43Z" fill="#fff" stroke="#1c9cf6" stroke-width="1.45"/>
<path d="M389.1 71.34L391.6 75.84L386.6 75.84Z" fill="#fff" stroke="#1c9cf6" stroke-width="1.45"/>
<path d="M392.44 68.05L394.94 72.55L389.94 72.55Z" fill="#fff" stroke="#1c9cf6" stroke-width="1.45"/>
<path d="M395.79 65.69L398.29 70.19L393.29 70.19Z" fill="#fff" stroke="#1c9cf6" stroke-width="1.45"/>
<path d="M399.13 61.92L401.63 66.42L396.63 66.42Z" fill="#fff" stroke="#1c9cf6" stroke-width="1.45"/>
<path d="M402.48 58.62L404.98 63.12L399.98 63.12Z" fill="#fff" stroke="#1c9cf6" stroke-width="1.45"/>
<path d="M405.83 56.27L408.33 60.77L403.33 60.77Z" fill="#fff" stroke="#1c9cf6" stroke-width="1.45"/>
<path d="M409.17 53.44L411.67 57.94L406.67 57.94Z" fill="#fff" stroke="#1c9cf6" stroke-width="1.45"/>
<path d="M412.52 51.56L415.02 56.06L410.02 56.06Z" fill="#fff" stroke="#1c9cf6" stroke-width="1.45"/>
<path d="M415.86 49.68L418.36 54.18L413.36 54.18Z" fill="#fff" stroke="#1c9cf6" stroke-width="1.45"/>
<path d="M419.21 48.03L421.71 52.53L416.71 52.53Z" fill="#fff" stroke="#1c9cf6" stroke-width="1.45"/>
<path d="M422.55 44.97L425.05 49.47L420.05 49.47Z" fill="#fff" stroke="#1c9cf6" stroke-width="1.45"/>
<path d="M328.87 189.47L332.22 169.45L335.57 155.32L338.91 138.84L342.26 128.24L345.6 121.18L348.95 108.23L352.29 101.16L355.64 95.27L358.99 90.56L362.33 85.85L365.68 81.14L369.02 77.61L372.37 72.9L375.71 68.19L379.06 64.66L382.41 60.65L385.75 55.71L389.1 52.88L392.44 50.53L395.79 48.64L399.13 47.94" fill="none" stroke="#ff8214" stroke-width="1.4" stroke-linejoin="round"/>
<circle cx="328.87" cy="189.47" r="2" fill="#fff" stroke="#ff8214" stroke-width="1.45"/>
<circle cx="332.22" cy="169.45" r="2" fill="#fff" stroke="#ff8214" stroke-width="1.45"/>
<circle cx="335.57" cy="155.32" r="2" fill="#fff" stroke="#ff8214" stroke-width="1.45"/>
<circle cx="338.91" cy="138.84" r="2" fill="#fff" stroke="#ff8214" stroke-width="1.45"/>
<circle cx="342.26" cy="128.24" r="2" fill="#fff" stroke="#ff8214" stroke-width="1.45"/>
<circle cx="345.6" cy="121.18" r="2" fill="#fff" stroke="#ff8214" stroke-width="1.45"/>
<circle cx="348.95" cy="108.23" r="2" fill="#fff" stroke="#ff8214" stroke-width="1.45"/>
<circle cx="352.29" cy="101.16" r="2" fill="#fff" stroke="#ff8214" stroke-width="1.45"/>
<circle cx="355.64" cy="95.27" r="2" fill="#fff" stroke="#ff8214" stroke-width="1.45"/>
<circle cx="358.99" cy="90.56" r="2" fill="#fff" stroke="#ff8214" stroke-width="1.45"/>
<circle cx="362.33" cy="85.85" r="2" fill="#fff" stroke="#ff8214" stroke-width="1.45"/>
<circle cx="365.68" cy="81.14" r="2" fill="#fff" stroke="#ff8214" stroke-width="1.45"/>
<circle cx="369.02" cy="77.61" r="2" fill="#fff" stroke="#ff8214" stroke-width="1.45"/>
<circle cx="372.37" cy="72.9" r="2" fill="#fff" stroke="#ff8214" stroke-width="1.45"/>
<circle cx="375.71" cy="68.19" r="2" fill="#fff" stroke="#ff8214" stroke-width="1.45"/>
<circle cx="379.06" cy="64.66" r="2" fill="#fff" stroke="#ff8214" stroke-width="1.45"/>
<circle cx="382.41" cy="60.65" r="2" fill="#fff" stroke="#ff8214" stroke-width="1.45"/>
<circle cx="385.75" cy="55.71" r="2" fill="#fff" stroke="#ff8214" stroke-width="1.45"/>
<circle cx="389.1" cy="52.88" r="2" fill="#fff" stroke="#ff8214" stroke-width="1.45"/>
<circle cx="392.44" cy="50.53" r="2" fill="#fff" stroke="#ff8214" stroke-width="1.45"/>
<circle cx="395.79" cy="48.64" r="2" fill="#fff" stroke="#ff8214" stroke-width="1.45"/>
<circle cx="399.13" cy="47.94" r="2" fill="#fff" stroke="#ff8214" stroke-width="1.45"/>
<path d="M328.87 189.94L332.22 169.93L335.57 166.39L338.91 149.44L342.26 135.07L345.6 120L348.95 117.17L352.29 109.87L355.64 108.23L358.99 104.22L362.33 101.4L365.68 96.45L369.02 89.86L372.37 85.15L375.71 77.37L379.06 73.84L382.41 70.07L385.75 62.54L389.1 54.53L392.44 51.94L395.79 46.29" fill="none" stroke="#141414" stroke-width="1.4" stroke-linejoin="round"/>
<rect x="327.02" y="188.09" width="3.7" height="3.7" fill="#fff" stroke="#141414" stroke-width="1.45"/>
<rect x="330.37" y="168.08" width="3.7" height="3.7" fill="#fff" stroke="#141414" stroke-width="1.45"/>
<rect x="333.72" y="164.54" width="3.7" height="3.7" fill="#fff" stroke="#141414" stroke-width="1.45"/>
<rect x="337.06" y="147.59" width="3.7" height="3.7" fill="#fff" stroke="#141414" stroke-width="1.45"/>
<rect x="340.41" y="133.22" width="3.7" height="3.7" fill="#fff" stroke="#141414" stroke-width="1.45"/>
<rect x="343.75" y="118.15" width="3.7" height="3.7" fill="#fff" stroke="#141414" stroke-width="1.45"/>
<rect x="347.1" y="115.32" width="3.7" height="3.7" fill="#fff" stroke="#141414" stroke-width="1.45"/>
<rect x="350.44" y="108.02" width="3.7" height="3.7" fill="#fff" stroke="#141414" stroke-width="1.45"/>
<rect x="353.79" y="106.38" width="3.7" height="3.7" fill="#fff" stroke="#141414" stroke-width="1.45"/>
<rect x="357.14" y="102.37" width="3.7" height="3.7" fill="#fff" stroke="#141414" stroke-width="1.45"/>
<rect x="360.48" y="99.55" width="3.7" height="3.7" fill="#fff" stroke="#141414" stroke-width="1.45"/>
<rect x="363.83" y="94.6" width="3.7" height="3.7" fill="#fff" stroke="#141414" stroke-width="1.45"/>
<rect x="367.17" y="88.01" width="3.7" height="3.7" fill="#fff" stroke="#141414" stroke-width="1.45"/>
<rect x="370.52" y="83.3" width="3.7" height="3.7" fill="#fff" stroke="#141414" stroke-width="1.45"/>
<rect x="373.86" y="75.52" width="3.7" height="3.7" fill="#fff" stroke="#141414" stroke-width="1.45"/>
<rect x="377.21" y="71.99" width="3.7" height="3.7" fill="#fff" stroke="#141414" stroke-width="1.45"/>
<rect x="380.56" y="68.22" width="3.7" height="3.7" fill="#fff" stroke="#141414" stroke-width="1.45"/>
<rect x="383.9" y="60.69" width="3.7" height="3.7" fill="#fff" stroke="#141414" stroke-width="1.45"/>
<rect x="387.25" y="52.68" width="3.7" height="3.7" fill="#fff" stroke="#141414" stroke-width="1.45"/>
<rect x="390.59" y="50.09" width="3.7" height="3.7" fill="#fff" stroke="#141414" stroke-width="1.45"/>
<rect x="393.94" y="44.44" width="3.7" height="3.7" fill="#fff" stroke="#141414" stroke-width="1.45"/>
<rect x="308.8" y="25.8" width="234.2" height="188.4" fill="none" stroke="#6e6e6e" stroke-width="1.2"/>
<line x1="325.53" y1="214.2" x2="325.53" y2="211.2" stroke="#6e6e6e" stroke-width="1.0"/>
<line x1="392.44" y1="214.2" x2="392.44" y2="211.2" stroke="#6e6e6e" stroke-width="1.0"/>
<line x1="459.36" y1="214.2" x2="459.36" y2="211.2" stroke="#6e6e6e" stroke-width="1.0"/>
<line x1="526.27" y1="214.2" x2="526.27" y2="211.2" stroke="#6e6e6e" stroke-width="1.0"/>
<line x1="358.99" y1="214.2" x2="358.99" y2="212.4" stroke="#6e6e6e" stroke-width="1.0"/>
<line x1="425.9" y1="214.2" x2="425.9" y2="212.4" stroke="#6e6e6e" stroke-width="1.0"/>
<line x1="492.81" y1="214.2" x2="492.81" y2="212.4" stroke="#6e6e6e" stroke-width="1.0"/>
<line x1="308.8" y1="214.2" x2="311.3" y2="214.2" stroke="#6e6e6e" stroke-width="1.0"/>
<line x1="308.8" y1="167.1" x2="311.3" y2="167.1" stroke="#6e6e6e" stroke-width="1.0"/>
<line x1="308.8" y1="120" x2="311.3" y2="120" stroke="#6e6e6e" stroke-width="1.0"/>
<line x1="308.8" y1="72.9" x2="311.3" y2="72.9" stroke="#6e6e6e" stroke-width="1.0"/>
<line x1="308.8" y1="25.8" x2="311.3" y2="25.8" stroke="#6e6e6e" stroke-width="1.0"/>
<line x1="308.8" y1="190.65" x2="310.3" y2="190.65" stroke="#6e6e6e" stroke-width="1.0"/>
<line x1="308.8" y1="143.55" x2="310.3" y2="143.55" stroke="#6e6e6e" stroke-width="1.0"/>
<line x1="308.8" y1="96.45" x2="310.3" y2="96.45" stroke="#6e6e6e" stroke-width="1.0"/>
<line x1="308.8" y1="49.35" x2="310.3" y2="49.35" stroke="#6e6e6e" stroke-width="1.0"/>
<text x="325.53" y="224.1" font-size="8.2" text-anchor="middle" font-weight="normal" fill="#4a4a4a" >0</text>
<text x="392.44" y="224.1" font-size="8.2" text-anchor="middle" font-weight="normal" fill="#4a4a4a" >20</text>
<text x="459.36" y="224.1" font-size="8.2" text-anchor="middle" font-weight="normal" fill="#4a4a4a" >40</text>
<text x="526.27" y="224.1" font-size="8.2" text-anchor="middle" font-weight="normal" fill="#4a4a4a" >60</text>
<text x="305.1" y="216.7" font-size="8.4" text-anchor="end" font-weight="normal" fill="#4a4a4a" >0</text>
<text x="305.1" y="169.6" font-size="8.4" text-anchor="end" font-weight="normal" fill="#4a4a4a" >200</text>
<text x="305.1" y="122.5" font-size="8.4" text-anchor="end" font-weight="normal" fill="#4a4a4a" >400</text>
<text x="305.1" y="75.4" font-size="8.4" text-anchor="end" font-weight="normal" fill="#4a4a4a" >600</text>
<text x="305.1" y="28.3" font-size="8.4" text-anchor="end" font-weight="normal" fill="#4a4a4a" >800</text>
<text x="304.2" y="51.35" font-size="7.6" text-anchor="end" font-weight="bold" fill="#ee1c24" >700</text>
<text x="308" y="15.7" font-size="13.5" text-anchor="start" font-weight="bold" fill="#111" >(b)</text>
<text x="425.3" y="237.5" font-size="9.5" text-anchor="middle" font-weight="bold" fill="#111" >Iteration</text>
<text x="287.1" y="120.1" font-size="9.65" text-anchor="middle" font-weight="bold" fill="#111" transform="rotate(-90 287.1 120.1)">Optical Power (&#181;W)</text>
<line x1="457.8" y1="150.4" x2="476.4" y2="150.4" stroke="#ff8214" stroke-width="1.8"/>
<circle cx="467.1" cy="150.4" r="2.3" fill="#fff" stroke="#ff8214" stroke-width="1.4"/>
<text x="478.8" y="152.7" font-size="7.8" text-anchor="start" font-weight="bold" fill="#111" >CA-SOA</text>
<line x1="457.8" y1="160.5" x2="476.4" y2="160.5" stroke="#1c9cf6" stroke-width="1.8"/>
<path d="M467.1 157.62L469.98 162.8L464.23 162.8Z" fill="#fff" stroke="#1c9cf6" stroke-width="1.4"/>
<text x="478.8" y="162.8" font-size="7.8" text-anchor="start" font-weight="bold" fill="#111" >DASSS-SOA</text>
<line x1="457.8" y1="170.6" x2="476.4" y2="170.6" stroke="#1f8f1f" stroke-width="1.8"/>
<path d="M467.1 173.59L470.09 168.21L464.11 168.21Z" fill="#fff" stroke="#1f8f1f" stroke-width="1.4"/>
<text x="478.8" y="172.9" font-size="7.8" text-anchor="start" font-weight="bold" fill="#111" >LSOA</text>
<line x1="457.8" y1="180.7" x2="476.4" y2="180.7" stroke="#141414" stroke-width="1.8"/>
<rect x="464.97" y="178.57" width="4.25" height="4.25" fill="#fff" stroke="#141414" stroke-width="1.4"/>
<text x="478.8" y="183" font-size="7.8" text-anchor="start" font-weight="bold" fill="#111" >LPSO</text>
<defs><linearGradient id="g1" gradientUnits="userSpaceOnUse" x1="148.95" y1="348.7" x2="31.7" y2="348.7"><stop offset="0" stop-color="#ff0000"/><stop offset="0.05" stop-color="#fe0b0b"/><stop offset="0.1" stop-color="#fc1919"/><stop offset="0.15" stop-color="#f92b2b"/><stop offset="0.2" stop-color="#f73f3f"/><stop offset="0.25" stop-color="#f45454"/><stop offset="0.35" stop-color="#ef7c7c"/><stop offset="0.45" stop-color="#eb9e9e"/><stop offset="0.55" stop-color="#e7baba"/><stop offset="0.65" stop-color="#e4cfcf"/><stop offset="0.75" stop-color="#e3dcdc"/><stop offset="0.83" stop-color="#e2e2e2"/><stop offset="1" stop-color="#e2e2e2"/></linearGradient><linearGradient id="g2" gradientUnits="userSpaceOnUse" x1="148.95" y1="348.7" x2="266.2" y2="348.7"><stop offset="0" stop-color="#ff0000"/><stop offset="0.05" stop-color="#fe0b0b"/><stop offset="0.1" stop-color="#fc1919"/><stop offset="0.15" stop-color="#f92b2b"/><stop offset="0.2" stop-color="#f73f3f"/><stop offset="0.25" stop-color="#f45454"/><stop offset="0.35" stop-color="#ef7c7c"/><stop offset="0.45" stop-color="#eb9e9e"/><stop offset="0.55" stop-color="#e7baba"/><stop offset="0.65" stop-color="#e4cfcf"/><stop offset="0.75" stop-color="#e3dcdc"/><stop offset="0.83" stop-color="#e2e2e2"/><stop offset="1" stop-color="#e2e2e2"/></linearGradient><linearGradient id="g3" gradientUnits="userSpaceOnUse" x1="148.95" y1="348.7" x2="148.95" y2="254.8"><stop offset="0" stop-color="#ff0000"/><stop offset="0.05" stop-color="#fe0b0b"/><stop offset="0.1" stop-color="#fc1919"/><stop offset="0.15" stop-color="#f92b2b"/><stop offset="0.2" stop-color="#f73f3f"/><stop offset="0.25" stop-color="#f45454"/><stop offset="0.35" stop-color="#ef7c7c"/><stop offset="0.45" stop-color="#eb9e9e"/><stop offset="0.55" stop-color="#e7baba"/><stop offset="0.65" stop-color="#e4cfcf"/><stop offset="0.75" stop-color="#e3dcdc"/><stop offset="0.83" stop-color="#e2e2e2"/><stop offset="1" stop-color="#e2e2e2"/></linearGradient><linearGradient id="g4" gradientUnits="userSpaceOnUse" x1="148.95" y1="348.7" x2="148.95" y2="442.6"><stop offset="0" stop-color="#ff0000"/><stop offset="0.05" stop-color="#fe0b0b"/><stop offset="0.1" stop-color="#fc1919"/><stop offset="0.15" stop-color="#f92b2b"/><stop offset="0.2" stop-color="#f73f3f"/><stop offset="0.25" stop-color="#f45454"/><stop offset="0.35" stop-color="#ef7c7c"/><stop offset="0.45" stop-color="#eb9e9e"/><stop offset="0.55" stop-color="#e7baba"/><stop offset="0.65" stop-color="#e4cfcf"/><stop offset="0.75" stop-color="#e3dcdc"/><stop offset="0.83" stop-color="#e2e2e2"/><stop offset="1" stop-color="#e2e2e2"/></linearGradient><clipPath id="c5"><rect x="33" y="256.1" width="231.9" height="185.2"/></clipPath></defs>
<g clip-path="url(#c5)">
<rect x="31.7" y="254.8" width="117.75" height="187.8" fill="url(#g1)"/>
<rect x="148.95" y="254.8" width="117.25" height="187.8" fill="url(#g2)"/>
<path d="M31.7 254.8L266.2 254.8L148.95 348.7Z" fill="url(#g3)"/>
<path d="M31.7 442.6L266.2 442.6L148.95 348.7Z" fill="url(#g4)"/>
</g>
<path d="M51.24 397.06L51.85 396.01L52.46 394.96L53.08 393.91L53.69 392.86L54.3 391.8L54.91 390.74L55.52 389.66L56.13 388.56L56.74 387.46L57.35 386.35L57.96 385.25L58.58 384.18L59.19 383.12L59.8 382.09L60.41 381.07L61.02 380.06L61.63 379.06L62.24 378.05L62.85 377.04L63.47 376.01L64.08 374.97L64.69 373.94L65.3 372.92L65.91 371.92L66.52 370.94L67.13 370L67.74 369.08L68.35 368.17L68.97 367.28L69.58 366.4L70.19 365.52L70.8 364.64L71.41 363.76L72.02 362.89L72.63 362.04L73.24 361.2L73.86 360.4L74.47 359.62L75.08 358.85L75.69 358.09L76.3 357.36L76.91 356.67L77.52 356.03L78.13 355.45L78.75 354.9L79.36 354.39L79.97 353.9L80.58 353.44L81.19 353L81.8 352.57L82.41 352.13L83.02 351.7L83.63 351.29L84.25 350.91L84.86 350.58L85.47 350.33L86.08 350.12L86.69 349.91L87.3 349.72L87.91 349.55L88.52 349.42L89.14 349.33L89.75 349.29L90.36 349.3L90.97 349.33L91.58 349.39L92.19 349.47L92.8 349.56L93.41 349.67L94.02 349.79L94.64 349.92L95.25 350.05L95.86 350.2L96.47 350.4L97.08 350.64L97.69 350.92L98.3 351.24L98.91 351.59L99.53 351.96L100.14 352.34L100.75 352.73L101.36 353.16L101.97 353.63L102.58 354.15L103.19 354.7L103.8 355.28L104.42 355.88L105.03 356.5L105.64 357.12L106.25 357.76L106.86 358.43L107.47 359.12L108.08 359.83L108.69 360.57L109.3 361.34L109.92 362.13L110.53 362.95L111.14 363.81L111.75 364.72L112.36 365.68L112.97 366.67L113.58 367.68L114.19 368.71L114.81 369.74L115.42 370.75L116.03 371.78L116.64 372.83L117.25 373.89L117.86 374.95L118.47 376L119.08 377.04L119.69 378.07L120.31 379.07L120.92 380.07L121.53 381.06L122.14 382.05L122.75 383.03L123.36 384.01L123.97 384.99L124.58 385.96L125.2 386.92L125.81 387.88L126.42 388.83L127.03 389.79L127.64 390.76L128.25 391.74L128.86 392.74L129.47 393.77L130.08 394.84L130.7 395.92L131.31 397.02L131.92 398.13L132.53 399.22L133.14 400.29L133.75 401.33L134.36 402.33L134.97 403.31L135.59 404.28L136.2 405.23L136.81 406.16L137.42 407.08L138.03 407.98L138.64 408.86L139.25 409.71L139.86 410.53L140.48 411.32L141.09 412.08L141.7 412.83L142.31 413.55L142.92 414.25L143.53 414.94L144.14 415.61L144.75 416.26L145.36 416.91L145.98 417.54L146.59 418.14L147.2 418.73L147.81 419.31L148.42 419.89L149.03 420.46L149.64 421.05L150.25 421.64L150.87 422.26L151.48 422.91L152.09 423.56L152.7 424.22L153.31 424.87L153.92 425.5L154.53 426.1L155.14 426.65L155.75 427.17L156.37 427.66L156.98 428.13L157.59 428.59L158.2 429.03L158.81 429.46L159.42 429.87L160.03 430.27L160.64 430.66L161.26 431.04L161.87 431.4L162.48 431.75L163.09 432.09L163.7 432.43L164.31 432.75L164.92 433.06L165.53 433.36L166.15 433.66L166.76 433.95L167.37 434.24L167.98 434.52L168.59 434.8L169.2 435.07L169.81 435.35L170.42 435.61L171.03 435.88L171.65 436.13L172.26 436.38L172.87 436.62L173.48 436.85L174.09 437.08L174.7 437.29L175.31 437.49L175.92 437.68L176.54 437.87L177.15 438.06L177.76 438.24L178.37 438.41L178.98 438.58L179.59 438.74L180.2 438.9L180.81 439.06L181.42 439.21L182.04 439.37L182.65 439.52L183.26 439.67L183.87 439.82L184.48 439.96L185.09 440.09L185.7 440.22L186.31 440.33L186.93 440.44L187.54 440.53L188.15 440.61L188.76 440.69L189.37 440.76L189.98 440.83L190.59 440.9L191.2 440.96L191.81 441.02L192.43 441.08L193.04 441.14L193.65 441.19L194.26 441.25L194.87 441.31L195.48 441.36L196.09 441.42L196.7 441.48L197.32 441.54" fill="none" stroke="#141414" stroke-width="1.8" stroke-linejoin="round"/>
<path d="M50.75 427.58L51.39 426.26L52.03 424.94L52.67 423.62L53.3 422.3L53.94 420.99L54.58 419.7L55.22 418.43L55.86 417.2L56.49 415.99L57.13 414.79L57.77 413.61L58.41 412.44L59.04 411.28L59.68 410.13L60.32 408.99L60.96 407.86L61.6 406.74L62.23 405.62L62.87 404.52L63.51 403.42L64.15 402.33L64.78 401.25L65.42 400.16L66.06 399.07L66.7 397.98L67.34 396.91L67.97 395.86L68.61 394.84L69.25 393.87L69.89 392.95L70.53 392.06L71.16 391.21L71.8 390.37L72.44 389.55L73.08 388.74L73.71 387.92L74.35 387.1L74.99 386.27L75.63 385.44L76.27 384.61L76.9 383.81L77.54 383.03L78.18 382.27L78.82 381.56L79.45 380.86L80.09 380.17L80.73 379.49L81.37 378.85L82.01 378.23L82.64 377.64L83.28 377.11L83.92 376.61L84.56 376.14L85.19 375.68L85.83 375.23L86.47 374.8L87.11 374.38L87.75 373.98L88.38 373.61L89.02 373.25L89.66 372.92L90.3 372.61L90.93 372.33L91.57 372.07L92.21 371.81L92.85 371.55L93.49 371.29L94.12 371.06L94.76 370.84L95.4 370.65L96.04 370.49L96.68 370.38L97.31 370.31L97.95 370.27L98.59 370.24L99.23 370.22L99.86 370.2L100.5 370.19L101.14 370.18L101.78 370.19L102.42 370.23L103.05 370.29L103.69 370.37L104.33 370.47L104.97 370.59L105.6 370.71L106.24 370.85L106.88 370.99L107.52 371.15L108.16 371.35L108.79 371.59L109.43 371.86L110.07 372.17L110.71 372.5L111.34 372.86L111.98 373.24L112.62 373.63L113.26 374.03L113.9 374.48L114.53 374.98L115.17 375.54L115.81 376.15L116.45 376.79L117.08 377.45L117.72 378.13L118.36 378.82L119 379.5L119.64 380.2L120.27 380.92L120.91 381.68L121.55 382.45L122.19 383.23L122.83 384.03L123.46 384.82L124.1 385.62L124.74 386.4L125.38 387.19L126.01 387.97L126.65 388.75L127.29 389.54L127.93 390.33L128.57 391.13L129.2 391.95L129.84 392.77L130.48 393.61L131.12 394.47L131.75 395.35L132.39 396.26L133.03 397.18L133.67 398.11L134.31 399.05L134.94 399.98L135.58 400.9L136.22 401.81L136.86 402.7L137.49 403.58L138.13 404.46L138.77 405.33L139.41 406.2L140.05 407.07L140.68 407.94L141.32 408.8L141.96 409.67L142.6 410.54L143.23 411.41L143.87 412.3L144.51 413.19L145.15 414.08L145.79 414.98L146.42 415.86L147.06 416.74L147.7 417.6L148.34 418.44L148.98 419.27L149.61 420.08L150.25 420.88L150.89 421.67L151.53 422.46L152.16 423.23L152.8 423.99L153.44 424.73L154.08 425.45L154.72 426.15L155.35 426.82L155.99 427.48L156.63 428.12L157.27 428.75L157.9 429.37L158.54 429.97L159.18 430.56L159.82 431.13L160.46 431.68L161.09 432.21L161.73 432.73L162.37 433.22L163.01 433.7L163.64 434.16L164.28 434.61L164.92 435.04L165.56 435.47L166.2 435.89L166.83 436.31L167.47 436.73L168.11 437.14L168.75 437.56L169.38 437.99L170.02 438.42L170.66 438.84L171.3 439.26L171.94 439.66L172.57 440.04L173.21 440.39L173.85 440.71L174.49 441.01L175.13 441.27L175.76 441.52L176.4 441.76L177.04 442L177.68 442.25" fill="none" stroke="#3ab0f2" stroke-width="1.8" stroke-dasharray="5.2 3.0"/>
<line x1="90.13" y1="349.17" x2="90.13" y2="442.6" stroke="#141414" stroke-width="1.6"/>
<line x1="101.27" y1="370.3" x2="101.27" y2="442.6" stroke="#3ab0f2" stroke-width="1.6"/>
<rect x="31.7" y="254.8" width="234.5" height="187.8" fill="none" stroke="#6e6e6e" stroke-width="1.2"/>
<line x1="31.7" y1="442.6" x2="31.7" y2="439.6" stroke="#6e6e6e" stroke-width="1.0"/>
<line x1="70.78" y1="442.6" x2="70.78" y2="439.6" stroke="#6e6e6e" stroke-width="1.0"/>
<line x1="109.87" y1="442.6" x2="109.87" y2="439.6" stroke="#6e6e6e" stroke-width="1.0"/>
<line x1="148.95" y1="442.6" x2="148.95" y2="439.6" stroke="#6e6e6e" stroke-width="1.0"/>
<line x1="188.03" y1="442.6" x2="188.03" y2="439.6" stroke="#6e6e6e" stroke-width="1.0"/>
<line x1="227.12" y1="442.6" x2="227.12" y2="439.6" stroke="#6e6e6e" stroke-width="1.0"/>
<line x1="266.2" y1="442.6" x2="266.2" y2="439.6" stroke="#6e6e6e" stroke-width="1.0"/>
<line x1="31.7" y1="442.6" x2="34.7" y2="442.6" stroke="#6e6e6e" stroke-width="1.0"/>
<line x1="31.7" y1="395.65" x2="34.7" y2="395.65" stroke="#6e6e6e" stroke-width="1.0"/>
<line x1="31.7" y1="348.7" x2="34.7" y2="348.7" stroke="#6e6e6e" stroke-width="1.0"/>
<line x1="31.7" y1="301.75" x2="34.7" y2="301.75" stroke="#6e6e6e" stroke-width="1.0"/>
<line x1="31.7" y1="254.8" x2="34.7" y2="254.8" stroke="#6e6e6e" stroke-width="1.0"/>
<text x="31.2" y="453.2" font-size="8.2" text-anchor="middle" font-weight="normal" fill="#4a4a4a" >-12</text>
<text x="70.28" y="453.2" font-size="8.2" text-anchor="middle" font-weight="normal" fill="#4a4a4a" >-8</text>
<text x="109.37" y="453.2" font-size="8.2" text-anchor="middle" font-weight="normal" fill="#4a4a4a" >-4</text>
<text x="148.45" y="453.2" font-size="8.2" text-anchor="middle" font-weight="normal" fill="#4a4a4a" >0</text>
<text x="187.53" y="453.2" font-size="8.2" text-anchor="middle" font-weight="normal" fill="#4a4a4a" >4</text>
<text x="226.62" y="453.2" font-size="8.2" text-anchor="middle" font-weight="normal" fill="#4a4a4a" >8</text>
<text x="265.7" y="453.2" font-size="8.2" text-anchor="middle" font-weight="normal" fill="#4a4a4a" >12</text>
<text x="27.5" y="445.5" font-size="8.2" text-anchor="end" font-weight="normal" fill="#4a4a4a" >0</text>
<text x="27.5" y="398.55" font-size="8.2" text-anchor="end" font-weight="normal" fill="#4a4a4a" >20</text>
<text x="27.5" y="351.6" font-size="8.2" text-anchor="end" font-weight="normal" fill="#4a4a4a" >40</text>
<text x="27.5" y="304.65" font-size="8.2" text-anchor="end" font-weight="normal" fill="#4a4a4a" >60</text>
<text x="27.5" y="257.7" font-size="8.2" text-anchor="end" font-weight="normal" fill="#4a4a4a" >80</text>
<text x="33.4" y="243.6" font-size="13.5" text-anchor="start" font-weight="bold" fill="#111" >(c)</text>
<text x="149" y="463.6" font-size="9.7" text-anchor="middle" font-weight="bold" fill="#111" >Lateral Offset (&#181;m)</text>
<text x="13.6" y="342.4" font-size="9.75" text-anchor="middle" font-weight="bold" fill="#111" transform="rotate(-90 13.6 342.4)">Coupling Efficiency (%)</text>
<line x1="196.8" y1="289.3" x2="219.8" y2="289.3" stroke="#141414" stroke-width="2.0"/>
<line x1="196.8" y1="303.7" x2="219.8" y2="303.7" stroke="#3ab0f2" stroke-width="2.0" stroke-dasharray="4.9 3.7"/>
<text x="221.7" y="292.2" font-size="12.0" text-anchor="start" font-weight="normal" fill="#1a1a1a" >X Axis</text>
<text x="221.7" y="306.3" font-size="12.0" text-anchor="start" font-weight="normal" fill="#1a1a1a" >Y Axis</text>
<defs><linearGradient id="g6" gradientUnits="userSpaceOnUse" x1="425.5" y1="347.05" x2="308.3" y2="347.05"><stop offset="0" stop-color="#ff0000"/><stop offset="0.05" stop-color="#fe0b0b"/><stop offset="0.1" stop-color="#fc1919"/><stop offset="0.15" stop-color="#f92b2b"/><stop offset="0.2" stop-color="#f73f3f"/><stop offset="0.25" stop-color="#f45454"/><stop offset="0.35" stop-color="#ef7c7c"/><stop offset="0.45" stop-color="#eb9e9e"/><stop offset="0.55" stop-color="#e7baba"/><stop offset="0.65" stop-color="#e4cfcf"/><stop offset="0.75" stop-color="#e3dcdc"/><stop offset="0.83" stop-color="#e2e2e2"/><stop offset="1" stop-color="#e2e2e2"/></linearGradient><linearGradient id="g7" gradientUnits="userSpaceOnUse" x1="425.5" y1="347.05" x2="542.7" y2="347.05"><stop offset="0" stop-color="#ff0000"/><stop offset="0.05" stop-color="#fe0b0b"/><stop offset="0.1" stop-color="#fc1919"/><stop offset="0.15" stop-color="#f92b2b"/><stop offset="0.2" stop-color="#f73f3f"/><stop offset="0.25" stop-color="#f45454"/><stop offset="0.35" stop-color="#ef7c7c"/><stop offset="0.45" stop-color="#eb9e9e"/><stop offset="0.55" stop-color="#e7baba"/><stop offset="0.65" stop-color="#e4cfcf"/><stop offset="0.75" stop-color="#e3dcdc"/><stop offset="0.83" stop-color="#e2e2e2"/><stop offset="1" stop-color="#e2e2e2"/></linearGradient><linearGradient id="g8" gradientUnits="userSpaceOnUse" x1="425.5" y1="347.05" x2="425.5" y2="252.9"><stop offset="0" stop-color="#ff0000"/><stop offset="0.05" stop-color="#fe0b0b"/><stop offset="0.1" stop-color="#fc1919"/><stop offset="0.15" stop-color="#f92b2b"/><stop offset="0.2" stop-color="#f73f3f"/><stop offset="0.25" stop-color="#f45454"/><stop offset="0.35" stop-color="#ef7c7c"/><stop offset="0.45" stop-color="#eb9e9e"/><stop offset="0.55" stop-color="#e7baba"/><stop offset="0.65" stop-color="#e4cfcf"/><stop offset="0.75" stop-color="#e3dcdc"/><stop offset="0.83" stop-color="#e2e2e2"/><stop offset="1" stop-color="#e2e2e2"/></linearGradient><linearGradient id="g9" gradientUnits="userSpaceOnUse" x1="425.5" y1="347.05" x2="425.5" y2="441.2"><stop offset="0" stop-color="#ff0000"/><stop offset="0.05" stop-color="#fe0b0b"/><stop offset="0.1" stop-color="#fc1919"/><stop offset="0.15" stop-color="#f92b2b"/><stop offset="0.2" stop-color="#f73f3f"/><stop offset="0.25" stop-color="#f45454"/><stop offset="0.35" stop-color="#ef7c7c"/><stop offset="0.45" stop-color="#eb9e9e"/><stop offset="0.55" stop-color="#e7baba"/><stop offset="0.65" stop-color="#e4cfcf"/><stop offset="0.75" stop-color="#e3dcdc"/><stop offset="0.83" stop-color="#e2e2e2"/><stop offset="1" stop-color="#e2e2e2"/></linearGradient><clipPath id="c10"><rect x="309.6" y="254.2" width="231.8" height="185.7"/></clipPath></defs>
<g clip-path="url(#c10)">
<rect x="308.3" y="252.9" width="117.7" height="188.3" fill="url(#g6)"/>
<rect x="425.5" y="252.9" width="117.2" height="188.3" fill="url(#g7)"/>
<path d="M308.3 252.9L542.7 252.9L425.5 347.05Z" fill="url(#g8)"/>
<path d="M308.3 441.2L542.7 441.2L425.5 347.05Z" fill="url(#g9)"/>
</g>
<path d="M327.83 417.43L328.82 416.95L329.81 416.49L330.79 416.03L331.78 415.57L332.77 415.09L333.75 414.6L334.74 414.07L335.73 413.5L336.71 412.88L337.7 412.21L338.69 411.51L339.67 410.77L340.66 410.02L341.64 409.25L342.63 408.48L343.62 407.72L344.6 406.96L345.59 406.21L346.58 405.46L347.56 404.7L348.55 403.91L349.54 403.09L350.52 402.23L351.51 401.32L352.5 400.34L353.48 399.3L354.47 398.2L355.46 397.04L356.44 395.83L357.43 394.57L358.42 393.23L359.4 391.8L360.39 390.31L361.38 388.75L362.36 387.15L363.35 385.48L364.34 383.74L365.32 381.94L366.31 380.09L367.29 378.21L368.28 376.3L369.27 374.32L370.25 372.31L371.24 370.27L372.23 368.22L373.21 366.17L374.2 364.09L375.19 361.99L376.17 359.89L377.16 357.81L378.15 355.74L379.13 353.68L380.12 351.64L381.11 349.65L382.09 347.68L383.08 345.74L384.07 343.82L385.05 341.95L386.04 340.13L387.03 338.39L388.01 336.69L389 335.04L389.98 333.43L390.97 331.88L391.96 330.4L392.94 329.01L393.93 327.68L394.92 326.39L395.9 325.15L396.89 323.99L397.88 322.89L398.86 321.88L399.85 320.92L400.84 320L401.82 319.13L402.81 318.33L403.8 317.6L404.78 316.96L405.77 316.35L406.76 315.78L407.74 315.23L408.73 314.73L409.72 314.27L410.7 313.87L411.69 313.52L412.68 313.22L413.66 312.93L414.65 312.67L415.63 312.42L416.62 312.21L417.61 312.03L418.59 311.88L419.58 311.78L420.57 311.7L421.55 311.64L422.54 311.59L423.53 311.54L424.51 311.49L425.5 311.44L426.49 311.49L427.47 311.54L428.46 311.59L429.45 311.64L430.43 311.7L431.42 311.78L432.41 311.88L433.39 312.03L434.38 312.21L435.37 312.42L436.35 312.67L437.34 312.93L438.32 313.22L439.31 313.52L440.3 313.87L441.28 314.27L442.27 314.73L443.26 315.23L444.24 315.78L445.23 316.35L446.22 316.96L447.2 317.6L448.19 318.33L449.18 319.13L450.16 320L451.15 320.92L452.14 321.88L453.12 322.89L454.11 323.99L455.1 325.15L456.08 326.39L457.07 327.68L458.06 329.01L459.04 330.4L460.03 331.88L461.02 333.43L462 335.04L462.99 336.69L463.97 338.39L464.96 340.13L465.95 341.95L466.93 343.82L467.92 345.74L468.91 347.68L469.89 349.65L470.88 351.64L471.87 353.68L472.85 355.74L473.84 357.81L474.83 359.89L475.81 361.99L476.8 364.09L477.79 366.17L478.77 368.22L479.76 370.27L480.75 372.31L481.73 374.32L482.72 376.3L483.71 378.21L484.69 380.09L485.68 381.94L486.66 383.74L487.65 385.48L488.64 387.15L489.62 388.75L490.61 390.31L491.6 391.8L492.58 393.23L493.57 394.57L494.56 395.83L495.54 397.04L496.53 398.2L497.52 399.3L498.5 400.34L499.49 401.32L500.48 402.23L501.46 403.09L502.45 403.91L503.44 404.7L504.42 405.46L505.41 406.21L506.4 406.96L507.38 407.72L508.37 408.48L509.36 409.25L510.34 410.02L511.33 410.77L512.31 411.51L513.3 412.21L514.29 412.88L515.27 413.5L516.26 414.07L517.25 414.6L518.23 415.09L519.22 415.57L520.21 416.03L521.19 416.49L522.18 416.95L523.17 417.43" fill="none" stroke="#141414" stroke-width="2.4" stroke-linejoin="round"/>
<path d="M327.83 425.9L328.82 425.87L329.81 425.85L330.79 425.82L331.78 425.8L332.77 425.78L333.75 425.76L334.74 425.73L335.73 425.71L336.71 425.68L337.7 425.64L338.69 425.6L339.67 425.55L340.66 425.49L341.64 425.38L342.63 425.19L343.62 424.94L344.6 424.64L345.59 424.29L346.58 423.9L347.56 423.49L348.55 423.05L349.54 422.61L350.52 422.13L351.51 421.6L352.5 420.98L353.48 420.29L354.47 419.5L355.46 418.61L356.44 417.62L357.43 416.35L358.42 414.66L359.4 412.72L360.39 410.7L361.38 408.7L362.36 406.63L363.35 404.43L364.34 402.09L365.32 399.57L366.31 396.78L367.29 393.79L368.28 390.77L369.27 387.8L370.25 384.8L371.24 381.64L372.23 378.17L373.21 374.35L374.2 370.67L375.19 367.44L376.17 364.35L377.16 361.02L378.15 357.37L379.13 353.97L380.12 351.2L381.11 348.74L382.09 346.48L383.08 344.34L384.07 342.24L385.05 340.17L386.04 338.17L387.03 336.27L388.01 334.5L389 332.86L389.98 331.3L390.97 329.83L391.96 328.45L392.94 327.17L393.93 325.99L394.92 324.87L395.9 323.81L396.89 322.8L397.88 321.85L398.86 320.96L399.85 320.11L400.84 319.31L401.82 318.51L402.81 317.73L403.8 316.97L404.78 316.26L405.77 315.59L406.76 314.99L407.74 314.46L408.73 314.01L409.72 313.62L410.7 313.23L411.69 312.86L412.68 312.5L413.66 312.16L414.65 311.86L415.63 311.6L416.62 311.39L417.61 311.23L418.59 311.14L419.58 311.12L420.57 311.12L421.55 311.12L422.54 311.12L423.53 311.12L424.51 311.12L425.5 311.12L426.49 311.12L427.47 311.12L428.46 311.12L429.45 311.12L430.43 311.12L431.42 311.12L432.41 311.14L433.39 311.23L434.38 311.39L435.37 311.6L436.35 311.86L437.34 312.16L438.32 312.5L439.31 312.86L440.3 313.23L441.28 313.62L442.27 314.01L443.26 314.46L444.24 314.99L445.23 315.59L446.22 316.26L447.2 316.97L448.19 317.73L449.18 318.51L450.16 319.31L451.15 320.11L452.14 320.96L453.12 321.85L454.11 322.8L455.1 323.81L456.08 324.87L457.07 325.99L458.06 327.17L459.04 328.45L460.03 329.83L461.02 331.3L462 332.86L462.99 334.5L463.97 336.27L464.96 338.17L465.95 340.17L466.93 342.24L467.92 344.34L468.91 346.48L469.89 348.74L470.88 351.2L471.87 353.97L472.85 357.37L473.84 361.02L474.83 364.35L475.81 367.44L476.8 370.67L477.79 374.35L478.77 378.17L479.76 381.64L480.75 384.8L481.73 387.8L482.72 390.77L483.71 393.79L484.69 396.78L485.68 399.57L486.66 402.09L487.65 404.43L488.64 406.63L489.62 408.7L490.61 410.7L491.6 412.72L492.58 414.66L493.57 416.35L494.56 417.62L495.54 418.61L496.53 419.5L497.52 420.29L498.5 420.98L499.49 421.6L500.48 422.13L501.46 422.61L502.45 423.05L503.44 423.49L504.42 423.9L505.41 424.29L506.4 424.64L507.38 424.94L508.37 425.19L509.36 425.38L510.34 425.49L511.33 425.55L512.31 425.6L513.3 425.64L514.29 425.68L515.27 425.71L516.26 425.73L517.25 425.76L518.23 425.78L519.22 425.8L520.21 425.82L521.19 425.85L522.18 425.87L523.17 425.9" fill="none" stroke="#3ab0f2" stroke-width="2.4" stroke-dasharray="5.3 4.3"/>
<line x1="425.5" y1="311.12" x2="425.5" y2="423.94" stroke="#141414" stroke-width="1.5"/>
<rect x="308.3" y="252.9" width="234.4" height="188.3" fill="none" stroke="#6e6e6e" stroke-width="1.2"/>
<line x1="308.9" y1="252.9" x2="542.1" y2="252.9" stroke="#fff" stroke-width="1.3"/>
<line x1="308.9" y1="252.9" x2="542.1" y2="252.9" stroke="#8c8c8c" stroke-width="1.1"/>
<line x1="308.3" y1="441.2" x2="308.3" y2="438.2" stroke="#6e6e6e" stroke-width="1.0"/>
<line x1="347.37" y1="441.2" x2="347.37" y2="438.2" stroke="#6e6e6e" stroke-width="1.0"/>
<line x1="386.43" y1="441.2" x2="386.43" y2="438.2" stroke="#6e6e6e" stroke-width="1.0"/>
<line x1="425.5" y1="441.2" x2="425.5" y2="438.2" stroke="#6e6e6e" stroke-width="1.0"/>
<line x1="464.57" y1="441.2" x2="464.57" y2="438.2" stroke="#6e6e6e" stroke-width="1.0"/>
<line x1="503.63" y1="441.2" x2="503.63" y2="438.2" stroke="#6e6e6e" stroke-width="1.0"/>
<line x1="542.7" y1="441.2" x2="542.7" y2="438.2" stroke="#6e6e6e" stroke-width="1.0"/>
<line x1="308.3" y1="425.51" x2="311.3" y2="425.51" stroke="#6e6e6e" stroke-width="1.0"/>
<line x1="308.3" y1="394.12" x2="311.3" y2="394.12" stroke="#6e6e6e" stroke-width="1.0"/>
<line x1="308.3" y1="362.74" x2="311.3" y2="362.74" stroke="#6e6e6e" stroke-width="1.0"/>
<line x1="308.3" y1="331.36" x2="311.3" y2="331.36" stroke="#6e6e6e" stroke-width="1.0"/>
<line x1="308.3" y1="299.98" x2="311.3" y2="299.98" stroke="#6e6e6e" stroke-width="1.0"/>
<line x1="308.3" y1="268.59" x2="311.3" y2="268.59" stroke="#6e6e6e" stroke-width="1.0"/>
<text x="307.8" y="451.8" font-size="8.2" text-anchor="middle" font-weight="normal" fill="#4a4a4a" >-12</text>
<text x="346.87" y="451.8" font-size="8.2" text-anchor="middle" font-weight="normal" fill="#4a4a4a" >-8</text>
<text x="385.93" y="451.8" font-size="8.2" text-anchor="middle" font-weight="normal" fill="#4a4a4a" >-4</text>
<text x="425" y="451.8" font-size="8.2" text-anchor="middle" font-weight="normal" fill="#4a4a4a" >0</text>
<text x="464.07" y="451.8" font-size="8.2" text-anchor="middle" font-weight="normal" fill="#4a4a4a" >4</text>
<text x="503.13" y="451.8" font-size="8.2" text-anchor="middle" font-weight="normal" fill="#4a4a4a" >8</text>
<text x="542.2" y="451.8" font-size="8.2" text-anchor="middle" font-weight="normal" fill="#4a4a4a" >12</text>
<text x="304.1" y="428.41" font-size="8.2" text-anchor="end" font-weight="normal" fill="#4a4a4a" >0</text>
<text x="304.1" y="397.02" font-size="8.2" text-anchor="end" font-weight="normal" fill="#4a4a4a" >20</text>
<text x="304.1" y="365.64" font-size="8.2" text-anchor="end" font-weight="normal" fill="#4a4a4a" >40</text>
<text x="304.1" y="334.26" font-size="8.2" text-anchor="end" font-weight="normal" fill="#4a4a4a" >60</text>
<text x="304.1" y="302.88" font-size="8.2" text-anchor="end" font-weight="normal" fill="#4a4a4a" >80</text>
<text x="304.1" y="271.49" font-size="8.2" text-anchor="end" font-weight="normal" fill="#4a4a4a" >100</text>
<text x="308.4" y="242.2" font-size="13.5" text-anchor="start" font-weight="bold" fill="#111" >(d)</text>
<text x="425.6" y="466.8" font-size="9.7" text-anchor="middle" font-weight="bold" fill="#111" >Lateral Offset (&#181;m)</text>
<text x="287.2" y="341.4" font-size="9.75" text-anchor="middle" font-weight="bold" fill="#111" transform="rotate(-90 287.2 341.4)">Coupling Efficiency (%)</text>
<line x1="472.5" y1="274.6" x2="495.5" y2="274.6" stroke="#141414" stroke-width="2.6"/>
<line x1="472.5" y1="289" x2="495.5" y2="289" stroke="#3ab0f2" stroke-width="2.6" stroke-dasharray="5.3 4.4"/>
<text x="498.1" y="277.5" font-size="11.3" text-anchor="start" font-weight="bold" fill="#1a1a1a" >X Axis</text>
<text x="498.1" y="291.6" font-size="11.3" text-anchor="start" font-weight="bold" fill="#1a1a1a" >Y Axis</text>
</svg></body></html>
